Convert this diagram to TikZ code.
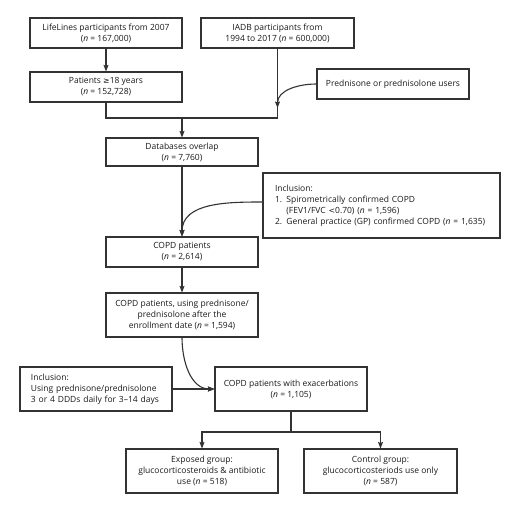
\documentclass[tikz,border=0pt]{standalone}
\usepackage{fontspec}
\setmainfont{Open Sans}
\newfontfamily\symf{DejaVu Sans}
\usetikzlibrary{arrows.meta}
\definecolor{ln}{HTML}{333333}
\definecolor{tx}{HTML}{1A1A1A}
\begin{document}
\begin{tikzpicture}[x=1pt,y=-1pt,
  box/.style={draw=ln, line width=1.1pt, text=tx, align=center, inner sep=1pt,
    font=\fontsize{8.5}{11}\selectfont},
  arr/.style={draw=ln, line width=1.1pt, -{Stealth[length=6.5pt,width=5pt,inset=1pt]}},
  ln/.style={draw=ln, line width=1.1pt}]
\useasboundingbox (0,0) rectangle (520,512);
\fill[white] (0,0) rectangle (520,512);
\node[box, minimum width=152pt, minimum height=30pt] (life) at (106,33) {LifeLines participants from 2007\\(\textit{n} = 167,000)};
\node[box, minimum width=153pt, minimum height=30pt] (iadb) at (277.5,33) {IADB participants from\\1994 to 2017 (\textit{n} = 600,000)};
\node[box, minimum width=152pt, minimum height=30pt] (pat) at (106,87) {Patients {\symf\fontsize{7.8}{11}\selectfont ≥}18 years\\(\textit{n} = 152,728)};
\node[box, minimum width=152pt, minimum height=30pt] (pred) at (393,84) {Prednisone or prednisolone users};
\node[box, minimum width=152pt, minimum height=28pt] (db) at (182,152) {Databases overlap\\(\textit{n} = 7,760)};
\node[box, align=left, text width=223pt, inner xsep=7pt, minimum height=65pt] (inc1) at (381.5,205.5) {\hspace*{5pt}Inclusion:\\\hspace*{5pt}1. Spirometrically confirmed COPD\\\hspace*{5pt}\hphantom{1. }(FEV1/FVC {\symf\fontsize{7.8}{11}\selectfont<}0.70) (\textit{n} = 1,596)\\\hspace*{5pt}2. General practice (GP) confirmed COPD (\textit{n} = 1,635)};
\node[box, minimum width=152pt, minimum height=30pt] (copd) at (182,252) {COPD patients\\(\textit{n} = 2,614)};
\node[box, minimum width=152pt, minimum height=44pt] (use) at (182,315) {COPD patients, using prednisone/\\prednisolone after the\\enrollment date (\textit{n} = 1,594)};
\node[box, align=left, text width=140pt, inner xsep=6pt, minimum height=44pt] (inc2) at (96,389) {\hspace*{5pt}Inclusion:\\\hspace*{5pt}Using prednisone/prednisolone\\\hspace*{5pt}3 or 4 DDDs daily for 3--14 days};
\node[box, minimum width=152pt, minimum height=44pt] (exac) at (291,389) {COPD patients with exacerbations\\(\textit{n} = 1,105)};
\node[box, minimum width=152pt, minimum height=44pt] (expo) at (202,471) {Exposed group:\\glucocorticosteroids \& antibiotic\\use (\textit{n} = 518)};
\node[box, minimum width=153pt, minimum height=44pt] (ctrl) at (380.5,471) {Control group:\\glucocorticosteriods use only\\(\textit{n} = 587)};
\coordinate (j1) at (182,118);
\coordinate (pj) at (277.5,108);
\coordinate (j2) at (291,432);
\draw[arr] (life) -- (pat);
\draw[ln] (pat.south) |- (iadb.south |- j1);
\draw[ln] (iadb.south) -- (iadb.south |- j1);
\draw[arr] (j1) -- (db.north);
\draw[arr] (pred.west) to[out=180,in=90] (pj);
\draw[arr] (db) -- (copd);
\draw[arr] (inc1.west |- 0,202) to[out=180,in=90] (copd.north);
\draw[arr] (copd) -- (use);
\draw[arr] (use.south) to[out=-90,in=180] (exac.west);
\draw[arr] (inc2.east) -- (exac.west);
\draw[ln] (exac.south) -- (j2);
\draw[arr] (j2) -| (expo.north);
\draw[arr] (j2) -| (ctrl.north);
\end{tikzpicture}
\end{document}
